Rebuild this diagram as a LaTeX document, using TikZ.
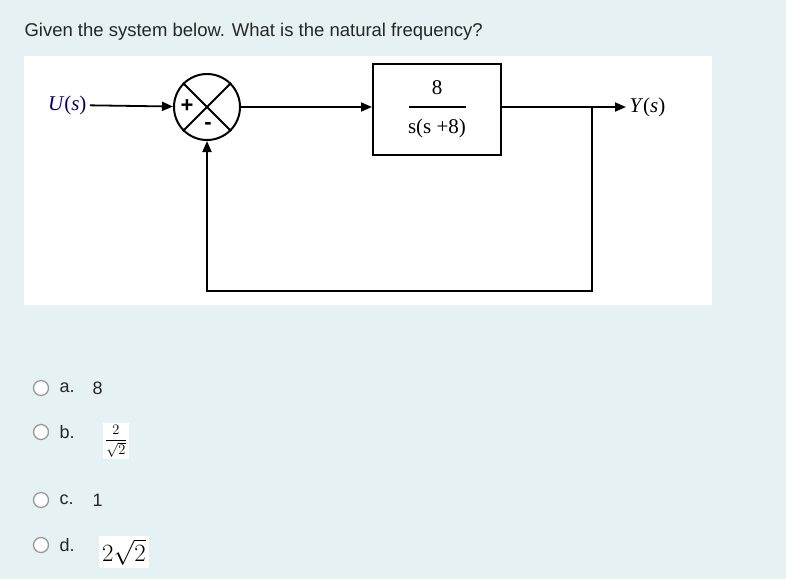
\documentclass[tikz,border=0pt]{standalone}
\usepackage{fontspec}
\setmainfont{Liberation Sans}
\newfontfamily\serifm{Liberation Serif}
\usetikzlibrary{arrows.meta}
\definecolor{bgc}{HTML}{E6F1F4}
\begin{document}
\begin{tikzpicture}[x=1pt,y=-1pt,
  wire/.style={line width=1.8pt},
  arr/.style={wire,-{Triangle[length=11pt,width=9pt]}},
  radio/.style={circle,draw=gray!80,line width=1.3pt,minimum size=15pt,inner sep=0pt,fill=white},
  opt/.style={anchor=west,font=\fontsize{18}{20}\selectfont,text=black!85}]
\fill[bgc] (0,0) rectangle (786,579);
\useasboundingbox (0,0) rectangle (786,579);
\fill[white] (24,56) rectangle (712,305);
\node[anchor=west,font=\fontsize{18.5}{20}\selectfont,text=black!85] (title) at (21,32) {Given the system below. What is the natural frequency?};
\node[anchor=east,font=\fontsize{21}{22}\selectfont\serifm,text=blue!40!black] (u) at (90,105) {\textit{U}(\textit{s})};
\node[circle,draw,line width=2pt,minimum size=66pt,inner sep=0pt] (sum) at (207,107) {};
\draw[line width=2pt] (sum.45) -- (sum.225) (sum.135) -- (sum.315);
\node[font=\bfseries\fontsize{22}{22}\selectfont] (plus) at (187,106) {+};
\node[font=\bfseries\fontsize{22}{22}\selectfont] (minus) at (208,126) {-};
\node[draw,line width=2pt,minimum width=128pt,minimum height=91pt] (g) at (437,109) {};
\node[font=\fontsize{21}{24}\selectfont\serifm,inner sep=1pt] (num) at (437,88) {8};
\node[font=\fontsize{21}{24}\selectfont\serifm,inner sep=1pt] (den) at (437,128) {s(s +8)};
\draw[line width=1.3pt] (409,107) -- (466,107);
\node[anchor=west,font=\fontsize{21}{22}\selectfont\serifm] (y) at (626,107) {\textit{Y}(\textit{s})};
\coordinate (br) at (592,107);
\draw[arr] (u) -- (sum);
\draw[arr] (sum) -- (g.west|-sum);
\draw[arr] (g.east|-sum) -- (y.west);
\draw[arr] (br) |- (207,291) -- (sum.south);
\node[radio] (ra) at (41,388) {};
\node[radio] (rb) at (41,432) {};
\node[radio] (rc) at (41,500) {};
\node[radio] (rd) at (41,545) {};
\node[opt] (la) at (56,388) {a.};
\node[opt] (lb) at (56,432) {b.};
\node[opt] (lc) at (56,500) {c.};
\node[opt] (ld) at (56,545) {d.};
\node[opt] (va) at (89,388) {8};
\node[fill=white,inner sep=2pt,font=\fontsize{14}{16}\selectfont] (vb) at (116,441) {$\displaystyle\frac{2}{\sqrt2}$};
\node[opt] (vc) at (89,500) {1};
\node[fill=white,inner sep=3pt,font=\fontsize{24}{26}\selectfont] (vd) at (124,552) {$2\sqrt2$};
\end{tikzpicture}
\end{document}
